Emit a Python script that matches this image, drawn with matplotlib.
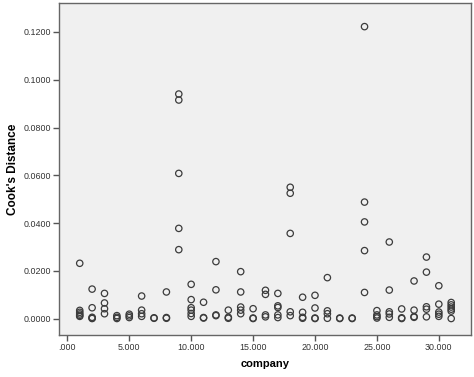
import matplotlib
matplotlib.use("Agg")
import matplotlib.pyplot as plt
from matplotlib.ticker import FuncFormatter

# company id for every group of points
companyIds = [1, 2, 3, 4, 5, 6, 7, 8, 9, 10,
              11, 12, 13, 14, 15, 16, 17, 18, 19, 20,
              21, 22, 23, 24, 25, 26, 27, 28, 29, 30, 31]

# Cook's distance values, one list per company
cooksDistance = [
    [0.0232, 0.0035, 0.0027, 0.0020, 0.0014, 0.0010],
    [0.0124, 0.0046, 0.0006, 0.0003, 0.0001],
    [0.0106, 0.0066, 0.0042, 0.0021],
    [0.0013, 0.0006, 0.0001],
    [0.0019, 0.0012, 0.0005],
    [0.0095, 0.0036, 0.0021, 0.0010],
    [0.0004, 0.0002],
    [0.0112, 0.0005, 0.0002],
    [0.0940, 0.0915, 0.0608, 0.0378, 0.0289],
    [0.0144, 0.0080, 0.0046, 0.0036, 0.0022, 0.0010],
    [0.0069, 0.0005, 0.0003],
    [0.0239, 0.0121, 0.0016, 0.0013],
    [0.0036, 0.0006, 0.0002],
    [0.0197, 0.0112, 0.0049, 0.0036, 0.0021],
    [0.0042, 0.0003, 0.0001],
    [0.0119, 0.0102, 0.0016, 0.0008],
    [0.0106, 0.0054, 0.0047, 0.0016, 0.0005],
    [0.0550, 0.0525, 0.0357, 0.0029, 0.0013],
    [0.0090, 0.0027, 0.0006, 0.0002],
    [0.0098, 0.0045, 0.0003, 0.0001],
    [0.0172, 0.0033, 0.0021, 0.0002],
    [0.0003, 0.0001],
    [0.0003, 0.0001],
    [0.1222, 0.0488, 0.0405, 0.0285, 0.0110],
    [0.0034, 0.0016, 0.0009, 0.0003],
    [0.0321, 0.0120, 0.0029, 0.0020, 0.0006],
    [0.0041, 0.0004, 0.0001],
    [0.0158, 0.0036, 0.0009, 0.0006],
    [0.0258, 0.0195, 0.0050, 0.0040, 0.0008],
    [0.0138, 0.0061, 0.0028, 0.0019, 0.0010],
    [0.0068, 0.0058, 0.0049, 0.0040, 0.0032, 0.0001],
]

xTicks = [0, 5, 10, 15, 20, 25, 30]
yTicks = [0.0, 0.02, 0.04, 0.06, 0.08, 0.10, 0.12]


def formatCompany(value, pos):
    # SPSS writes zero as ".000"
    text = "%.3f" % value
    if text.startswith("0"):
        text = text[1:]
    return text


def drawScatter():
    plt.rcParams['font.family'] = ['Liberation Sans', 'DejaVu Sans']

    fig = plt.figure(figsize=(4.74, 3.77), dpi=100)
    ax = fig.add_axes([0.1251, 0.1114, 0.8686, 0.8814])
    ax.set_facecolor("#f0f0f0")

    # flatten the groups into x/y lists
    xs = []
    ys = []
    for company, values in zip(companyIds, cooksDistance):
        for v in values:
            xs.append(company)
            ys.append(v)

    ax.scatter(xs, ys, s=21, facecolors="none", edgecolors="#3c3c3c",
               linewidths=0.9, zorder=3)

    ax.set_xlim(-0.65, 32.6)
    ax.set_ylim(-0.0068, 0.1322)
    ax.set_xticks(xTicks)
    ax.set_yticks(yTicks)
    ax.xaxis.set_major_formatter(FuncFormatter(formatCompany))
    ax.yaxis.set_major_formatter(FuncFormatter(lambda v, p: "%.4f" % v))

    for side in ["left", "bottom", "top", "right"]:
        ax.spines[side].set_color("#666666")
        ax.spines[side].set_linewidth(1.0)

    ax.tick_params(direction="out", length=4, width=1, color="#555555",
                   labelsize=6.4, labelcolor="#333333", pad=2)

    ax.set_xlabel("company", fontsize=8, fontweight="bold", labelpad=5)
    ax.set_ylabel("Cook's Distance", fontsize=8.5, fontweight="bold",
                  labelpad=3)

    fig.savefig("out.png", dpi=100)


def main():
    drawScatter()


main()
